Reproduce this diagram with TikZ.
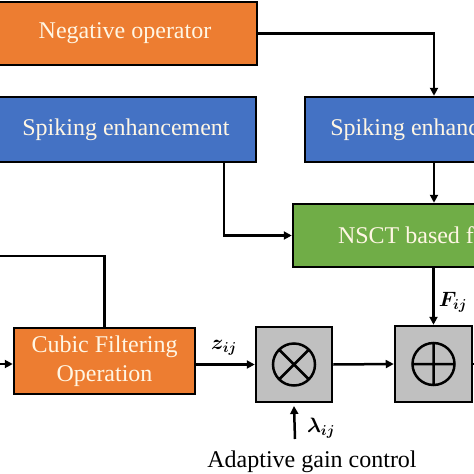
\documentclass[tikz,border=0pt]{standalone}
\usepackage{amsmath}
\usepackage{fontspec}
\setmainfont{Liberation Serif}
\usetikzlibrary{arrows.meta}
\definecolor{orng}{RGB}{237,125,49}
\definecolor{blu}{RGB}{68,114,196}
\definecolor{grn}{RGB}{112,173,71}
\definecolor{gry}{RGB}{192,192,192}
\definecolor{cream}{RGB}{255,246,228}
\tikzset{
  blk/.style={draw=black, line width=2.5pt, rectangle, inner sep=0pt, text=cream,
    font=\fontsize{24}{29}\selectfont, align=center},
  opbox/.style={draw=black, line width=2.5pt, rectangle, inner sep=0pt, fill=gry,
    minimum width=76pt, minimum height=75pt},
  conn/.style={line width=2.5pt},
  arr/.style={line width=2.5pt, -{Triangle[length=8pt,width=8pt]}},
  lbl/.style={font=\fontsize{20}{24}\selectfont, inner sep=0pt},
  plain/.style={font=\fontsize{24}{29}\selectfont, inner sep=0pt}
}
\begin{document}
\begin{tikzpicture}[x=1pt,y=-1pt]
\path[use as bounding box] (0,0) rectangle (474,474);
\clip (0,0) rectangle (474,474);
\fill[white] (0,0) rectangle (474,474);

\node[blk, fill=orng, minimum width=264pt, minimum height=63pt] (neg) at (125,33.5) {Negative operator};
\node[blk, fill=blu, minimum width=260pt, minimum height=65pt] (spl) at (126,129.5) {Spiking enhancement};
\node[blk, fill=blu, minimum width=258pt, minimum height=65pt] (spr) at (434,129.5) {Spiking enhancement};
\node[blk, fill=grn, minimum width=278pt, minimum height=63pt] (nsct) at (432,235.5) {NSCT based fusion};
\node[blk, fill=orng, minimum width=181pt, minimum height=66pt] (cub) at (104.5,361) {Cubic Filtering\\Operation};
\node[opbox] (mul) at (294,364.5) {};
\node[opbox, minimum width=77pt, minimum height=76pt] (plus) at (433.5,364) {};

% symbols
\draw[line width=2.5pt, shift={(mul.center)}] (0,0) circle[radius=21pt]
  (-14.85,-14.85) -- (14.85,14.85) (-14.85,14.85) -- (14.85,-14.85);
\draw[line width=2.5pt, shift={(plus.center)}] (0,0) circle[radius=21pt]
  (-21,0) -- (21,0) (0,-21) -- (0,21);

% connectors
\draw[arr] (neg.east) -| (spr.north);
\draw[arr] (spr.south) -- (spr.south |- nsct.north);
\draw[arr] ([xshift=98pt]spl.south) |- (nsct.west);
\draw[arr] (nsct.south -| plus.north) -- (plus.north);
\coordinate (tl) at (-5,256);
\draw[conn] (tl) -| (cub.north);
\coordinate (inl) at (-5,364);
\draw[arr] (inl) -- (inl -| cub.west);
\draw[arr] (mul.west -| cub.east) -- (mul.west);
\draw[arr] (mul.east) -- (plus.west);
\coordinate (outr) at (485,364);
\draw[conn] (plus.east) -- (outr);
\coordinate (lamb) at (295,439);
\draw[arr] (lamb) -- (mul.south |- 0,406);

% labels
\node[lbl] (z) at (224,348) {$\boldsymbol{z_{ij}}$};
\node[lbl] (F) at (453,302) {$\boldsymbol{F_{ij}}$};
\node[lbl] (lam) at (321,428) {$\boldsymbol{\lambda_{ij}}$};
\node[plain] (agc) at (312,462) {Adaptive gain control};
\end{tikzpicture}
\end{document}
